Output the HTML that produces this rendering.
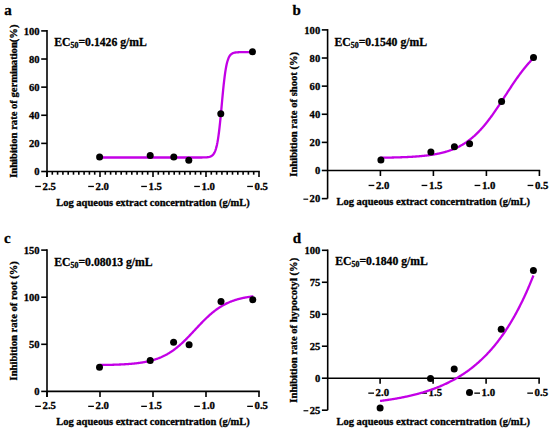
<!DOCTYPE html>
<html><head><meta charset="utf-8"><style>
html,body{margin:0;padding:0;background:#fff;width:550px;height:433px;overflow:hidden}
svg{display:block}
text{font-family:"Liberation Serif", serif;font-weight:bold;fill:#000;stroke:#000;stroke-width:0.3px}
.t{font-size:10.6px}
.xt{font-size:10.8px}
.L{font-size:15px}
.e{font-size:11.7px}
.s{font-size:7.9px}
.y{font-size:10.6px}
.x{font-size:10.5px}
line{stroke:#000;stroke-width:1.6}
rect,circle{fill:#000}
</style></head><body>
<svg width="550" height="433" viewBox="0 0 550 433">
<line x1="47" y1="30.10" x2="47" y2="177.00" />
<line x1="41.20" y1="171.50" x2="47" y2="171.50" />
<text class="t" x="39.60" y="175.30" text-anchor="end">0</text>
<line x1="41.20" y1="143.38" x2="47" y2="143.38" />
<text class="t" x="39.60" y="147.18" text-anchor="end">20</text>
<line x1="41.20" y1="115.26" x2="47" y2="115.26" />
<text class="t" x="39.60" y="119.06" text-anchor="end">40</text>
<line x1="41.20" y1="87.14" x2="47" y2="87.14" />
<text class="t" x="39.60" y="90.94" text-anchor="end">60</text>
<line x1="41.20" y1="59.02" x2="47" y2="59.02" />
<text class="t" x="39.60" y="62.82" text-anchor="end">80</text>
<line x1="41.20" y1="30.90" x2="47" y2="30.90" />
<text class="t" x="39.60" y="34.70" text-anchor="end">100</text>
<line x1="47" y1="171.50" x2="259.80" y2="171.50" />
<line x1="47.00" y1="171.50" x2="47.00" y2="177.00" />
<text class="xt" x="42.50" y="189.50">2.5</text>
<rect x="35.20" y="185.80" width="5.7" height="1.3" />
<line x1="100.00" y1="171.50" x2="100.00" y2="177.00" />
<text class="xt" x="95.50" y="189.50">2.0</text>
<rect x="88.20" y="185.80" width="5.7" height="1.3" />
<line x1="153.00" y1="171.50" x2="153.00" y2="177.00" />
<text class="xt" x="148.50" y="189.50">1.5</text>
<rect x="141.20" y="185.80" width="5.7" height="1.3" />
<line x1="206.00" y1="171.50" x2="206.00" y2="177.00" />
<text class="xt" x="201.50" y="189.50">1.0</text>
<rect x="194.20" y="185.80" width="5.7" height="1.3" />
<line x1="259.00" y1="171.50" x2="259.00" y2="177.00" />
<text class="xt" x="254.50" y="189.50">0.5</text>
<rect x="247.20" y="185.80" width="5.7" height="1.3" />
<line x1="52.30" y1="171.50" x2="52.30" y2="174.70" />
<line x1="57.60" y1="171.50" x2="57.60" y2="174.70" />
<line x1="62.90" y1="171.50" x2="62.90" y2="174.70" />
<line x1="68.20" y1="171.50" x2="68.20" y2="174.70" />
<line x1="73.50" y1="171.50" x2="73.50" y2="174.70" />
<line x1="78.80" y1="171.50" x2="78.80" y2="174.70" />
<line x1="84.10" y1="171.50" x2="84.10" y2="174.70" />
<line x1="89.40" y1="171.50" x2="89.40" y2="174.70" />
<line x1="94.70" y1="171.50" x2="94.70" y2="174.70" />
<line x1="105.30" y1="171.50" x2="105.30" y2="174.70" />
<line x1="110.60" y1="171.50" x2="110.60" y2="174.70" />
<line x1="115.90" y1="171.50" x2="115.90" y2="174.70" />
<line x1="121.20" y1="171.50" x2="121.20" y2="174.70" />
<line x1="126.50" y1="171.50" x2="126.50" y2="174.70" />
<line x1="131.80" y1="171.50" x2="131.80" y2="174.70" />
<line x1="137.10" y1="171.50" x2="137.10" y2="174.70" />
<line x1="142.40" y1="171.50" x2="142.40" y2="174.70" />
<line x1="147.70" y1="171.50" x2="147.70" y2="174.70" />
<line x1="158.30" y1="171.50" x2="158.30" y2="174.70" />
<line x1="163.60" y1="171.50" x2="163.60" y2="174.70" />
<line x1="168.90" y1="171.50" x2="168.90" y2="174.70" />
<line x1="174.20" y1="171.50" x2="174.20" y2="174.70" />
<line x1="179.50" y1="171.50" x2="179.50" y2="174.70" />
<line x1="184.80" y1="171.50" x2="184.80" y2="174.70" />
<line x1="190.10" y1="171.50" x2="190.10" y2="174.70" />
<line x1="195.40" y1="171.50" x2="195.40" y2="174.70" />
<line x1="200.70" y1="171.50" x2="200.70" y2="174.70" />
<line x1="211.30" y1="171.50" x2="211.30" y2="174.70" />
<line x1="216.60" y1="171.50" x2="216.60" y2="174.70" />
<line x1="221.90" y1="171.50" x2="221.90" y2="174.70" />
<line x1="227.20" y1="171.50" x2="227.20" y2="174.70" />
<line x1="232.50" y1="171.50" x2="232.50" y2="174.70" />
<line x1="237.80" y1="171.50" x2="237.80" y2="174.70" />
<line x1="243.10" y1="171.50" x2="243.10" y2="174.70" />
<line x1="248.40" y1="171.50" x2="248.40" y2="174.70" />
<line x1="253.70" y1="171.50" x2="253.70" y2="174.70" />
<path d="M100.00,157.51 L100.51,157.51 L101.03,157.51 L101.54,157.51 L102.05,157.51 L102.57,157.51 L103.08,157.51 L103.59,157.51 L104.10,157.51 L104.62,157.51 L105.13,157.51 L105.64,157.51 L106.16,157.51 L106.67,157.51 L107.18,157.51 L107.70,157.51 L108.21,157.51 L108.72,157.51 L109.23,157.51 L109.75,157.51 L110.26,157.51 L110.77,157.51 L111.29,157.51 L111.80,157.51 L112.31,157.51 L112.83,157.51 L113.34,157.51 L113.85,157.51 L114.37,157.51 L114.88,157.51 L115.39,157.51 L115.90,157.51 L116.42,157.51 L116.93,157.51 L117.44,157.51 L117.96,157.51 L118.47,157.51 L118.98,157.51 L119.50,157.51 L120.01,157.51 L120.52,157.51 L121.03,157.51 L121.55,157.51 L122.06,157.51 L122.57,157.51 L123.09,157.51 L123.60,157.51 L124.11,157.51 L124.63,157.51 L125.14,157.51 L125.65,157.51 L126.17,157.51 L126.68,157.51 L127.19,157.51 L127.70,157.51 L128.22,157.51 L128.73,157.51 L129.24,157.51 L129.76,157.51 L130.27,157.51 L130.78,157.51 L131.30,157.51 L131.81,157.51 L132.32,157.51 L132.83,157.51 L133.35,157.51 L133.86,157.51 L134.37,157.51 L134.89,157.51 L135.40,157.51 L135.91,157.51 L136.43,157.51 L136.94,157.51 L137.45,157.51 L137.96,157.51 L138.48,157.51 L138.99,157.51 L139.50,157.51 L140.02,157.51 L140.53,157.51 L141.04,157.51 L141.56,157.51 L142.07,157.51 L142.58,157.51 L143.10,157.51 L143.61,157.51 L144.12,157.51 L144.63,157.51 L145.15,157.51 L145.66,157.51 L146.17,157.51 L146.69,157.51 L147.20,157.51 L147.71,157.51 L148.23,157.51 L148.74,157.51 L149.25,157.51 L149.76,157.51 L150.28,157.51 L150.79,157.51 L151.30,157.51 L151.82,157.51 L152.33,157.51 L152.84,157.51 L153.36,157.51 L153.87,157.51 L154.38,157.51 L154.90,157.51 L155.41,157.51 L155.92,157.51 L156.43,157.51 L156.95,157.51 L157.46,157.51 L157.97,157.51 L158.49,157.51 L159.00,157.51 L159.51,157.51 L160.03,157.51 L160.54,157.51 L161.05,157.51 L161.56,157.51 L162.08,157.51 L162.59,157.51 L163.10,157.51 L163.62,157.51 L164.13,157.51 L164.64,157.51 L165.16,157.51 L165.67,157.51 L166.18,157.51 L166.70,157.51 L167.21,157.51 L167.72,157.51 L168.23,157.51 L168.75,157.51 L169.26,157.51 L169.77,157.51 L170.29,157.51 L170.80,157.51 L171.31,157.51 L171.83,157.51 L172.34,157.51 L172.85,157.51 L173.36,157.51 L173.88,157.51 L174.39,157.51 L174.90,157.51 L175.42,157.51 L175.93,157.51 L176.44,157.51 L176.96,157.51 L177.47,157.51 L177.98,157.51 L178.50,157.51 L179.01,157.51 L179.52,157.51 L180.03,157.51 L180.55,157.51 L181.06,157.51 L181.57,157.51 L182.09,157.51 L182.60,157.51 L183.11,157.51 L183.63,157.51 L184.14,157.51 L184.65,157.51 L185.16,157.51 L185.68,157.51 L186.19,157.51 L186.70,157.51 L187.22,157.51 L187.73,157.51 L188.24,157.51 L188.76,157.51 L189.27,157.51 L189.78,157.51 L190.29,157.51 L190.81,157.51 L191.32,157.51 L191.83,157.51 L192.35,157.51 L192.86,157.51 L193.37,157.51 L193.89,157.51 L194.40,157.51 L194.91,157.51 L195.43,157.51 L195.94,157.51 L196.45,157.51 L196.96,157.51 L197.48,157.51 L197.99,157.50 L198.50,157.50 L199.02,157.50 L199.53,157.50 L200.04,157.50 L200.56,157.49 L201.07,157.49 L201.58,157.49 L202.09,157.48 L202.61,157.47 L203.12,157.46 L203.63,157.45 L204.15,157.44 L204.66,157.42 L205.17,157.40 L205.69,157.37 L206.20,157.34 L206.71,157.30 L207.23,157.25 L207.74,157.19 L208.25,157.12 L208.76,157.03 L209.28,156.91 L209.79,156.77 L210.30,156.60 L210.82,156.39 L211.33,156.12 L211.84,155.80 L212.36,155.40 L212.87,154.92 L213.38,154.32 L213.89,153.59 L214.41,152.71 L214.92,151.63 L215.43,150.34 L215.95,148.78 L216.46,146.92 L216.97,144.72 L217.49,142.13 L218.00,139.12 L218.51,135.67 L219.03,131.77 L219.54,127.41 L220.05,122.64 L220.56,117.52 L221.08,112.13 L221.59,106.58 L222.10,100.99 L222.62,95.48 L223.13,90.18 L223.64,85.18 L224.16,80.56 L224.67,76.37 L225.18,72.63 L225.69,69.35 L226.21,66.50 L226.72,64.06 L227.23,61.99 L227.75,60.25 L228.26,58.80 L228.77,57.59 L229.29,56.59 L229.80,55.76 L230.31,55.09 L230.83,54.53 L231.34,54.08 L231.85,53.71 L232.36,53.41 L232.88,53.17 L233.39,52.97 L233.90,52.81 L234.42,52.68 L234.93,52.58 L235.44,52.49 L235.96,52.42 L236.47,52.37 L236.98,52.32 L237.49,52.29 L238.01,52.26 L238.52,52.23 L239.03,52.21 L239.55,52.20 L240.06,52.18 L240.57,52.17 L241.09,52.17 L241.60,52.16 L242.11,52.15 L242.62,52.15 L243.14,52.15 L243.65,52.14 L244.16,52.14 L244.68,52.14 L245.19,52.14 L245.70,52.14 L246.22,52.13 L246.73,52.13 L247.24,52.13 L247.76,52.13 L248.27,52.13 L248.78,52.13 L249.29,52.13 L249.81,52.13 L250.32,52.13 L250.83,52.13 L251.35,52.13 L251.86,52.13 L252.37,52.13 L252.89,52.13 L253.40,52.13" fill="none" stroke="#C300E6" stroke-width="2.3" />
<circle cx="99.60" cy="157.00" r="3.5" />
<circle cx="150.20" cy="155.40" r="3.5" />
<circle cx="173.80" cy="157.00" r="3.5" />
<circle cx="188.80" cy="160.20" r="3.5" />
<circle cx="220.80" cy="113.80" r="3.5" />
<circle cx="252.50" cy="51.70" r="3.5" />
<text class="L" x="4.2" y="15.3">a</text>
<text class="e" x="54.3" y="46.4">EC<tspan class="s" dy="2">50</tspan><tspan dy="-2">=</tspan>0.1426 g/mL</text>
<text class="y" transform="translate(17,101.20) rotate(-90)" text-anchor="middle">Inhibition rate of germination(%)</text>
<text class="x" x="153" y="205.6" text-anchor="middle">Log aqueous extract concerntration (g/mL)</text>
<line x1="327.6" y1="29.10" x2="327.6" y2="198.62" />
<line x1="321.80" y1="198.62" x2="327.6" y2="198.62" />
<text class="t" x="320.20" y="202.42" text-anchor="end">20</text>
<rect x="303.40" y="198.62" width="4.8" height="1.15" />
<line x1="321.80" y1="170.50" x2="327.6" y2="170.50" />
<text class="t" x="320.20" y="174.30" text-anchor="end">0</text>
<line x1="321.80" y1="142.38" x2="327.6" y2="142.38" />
<text class="t" x="320.20" y="146.18" text-anchor="end">20</text>
<line x1="321.80" y1="114.26" x2="327.6" y2="114.26" />
<text class="t" x="320.20" y="118.06" text-anchor="end">40</text>
<line x1="321.80" y1="86.14" x2="327.6" y2="86.14" />
<text class="t" x="320.20" y="89.94" text-anchor="end">60</text>
<line x1="321.80" y1="58.02" x2="327.6" y2="58.02" />
<text class="t" x="320.20" y="61.82" text-anchor="end">80</text>
<line x1="321.80" y1="29.90" x2="327.6" y2="29.90" />
<text class="t" x="320.20" y="33.70" text-anchor="end">100</text>
<line x1="327.6" y1="170.50" x2="540.20" y2="170.50" />
<line x1="380.40" y1="170.50" x2="380.40" y2="176.00" />
<text class="xt" x="375.90" y="188.50">2.0</text>
<rect x="368.60" y="184.80" width="5.7" height="1.3" />
<line x1="433.40" y1="170.50" x2="433.40" y2="176.00" />
<text class="xt" x="428.90" y="188.50">1.5</text>
<rect x="421.60" y="184.80" width="5.7" height="1.3" />
<line x1="486.40" y1="170.50" x2="486.40" y2="176.00" />
<text class="xt" x="481.90" y="188.50">1.0</text>
<rect x="474.60" y="184.80" width="5.7" height="1.3" />
<line x1="539.40" y1="170.50" x2="539.40" y2="176.00" />
<text class="xt" x="534.90" y="188.50">0.5</text>
<rect x="527.60" y="184.80" width="5.7" height="1.3" />
<path d="M380.30,157.72 L380.81,157.71 L381.33,157.70 L381.84,157.70 L382.35,157.69 L382.87,157.68 L383.38,157.68 L383.89,157.67 L384.40,157.66 L384.92,157.65 L385.43,157.64 L385.94,157.64 L386.46,157.63 L386.97,157.62 L387.48,157.61 L388.00,157.60 L388.51,157.59 L389.02,157.58 L389.53,157.57 L390.05,157.56 L390.56,157.55 L391.07,157.54 L391.59,157.53 L392.10,157.52 L392.61,157.51 L393.13,157.49 L393.64,157.48 L394.15,157.47 L394.67,157.46 L395.18,157.44 L395.69,157.43 L396.20,157.42 L396.72,157.40 L397.23,157.39 L397.74,157.37 L398.26,157.36 L398.77,157.34 L399.28,157.32 L399.80,157.31 L400.31,157.29 L400.82,157.27 L401.33,157.26 L401.85,157.24 L402.36,157.22 L402.87,157.20 L403.39,157.18 L403.90,157.16 L404.41,157.14 L404.93,157.12 L405.44,157.10 L405.95,157.07 L406.47,157.05 L406.98,157.03 L407.49,157.00 L408.00,156.98 L408.52,156.95 L409.03,156.93 L409.54,156.90 L410.06,156.87 L410.57,156.84 L411.08,156.82 L411.60,156.79 L412.11,156.76 L412.62,156.73 L413.13,156.69 L413.65,156.66 L414.16,156.63 L414.67,156.59 L415.19,156.56 L415.70,156.52 L416.21,156.49 L416.73,156.45 L417.24,156.41 L417.75,156.37 L418.26,156.33 L418.78,156.29 L419.29,156.24 L419.80,156.20 L420.32,156.15 L420.83,156.11 L421.34,156.06 L421.86,156.01 L422.37,155.96 L422.88,155.91 L423.40,155.86 L423.91,155.81 L424.42,155.75 L424.93,155.70 L425.45,155.64 L425.96,155.58 L426.47,155.52 L426.99,155.46 L427.50,155.39 L428.01,155.33 L428.53,155.26 L429.04,155.19 L429.55,155.12 L430.06,155.05 L430.58,154.98 L431.09,154.90 L431.60,154.83 L432.12,154.75 L432.63,154.67 L433.14,154.58 L433.66,154.50 L434.17,154.41 L434.68,154.32 L435.20,154.23 L435.71,154.14 L436.22,154.04 L436.73,153.95 L437.25,153.85 L437.76,153.74 L438.27,153.64 L438.79,153.53 L439.30,153.42 L439.81,153.31 L440.33,153.19 L440.84,153.07 L441.35,152.95 L441.86,152.83 L442.38,152.70 L442.89,152.57 L443.40,152.44 L443.92,152.30 L444.43,152.16 L444.94,152.02 L445.46,151.87 L445.97,151.72 L446.48,151.57 L447.00,151.42 L447.51,151.26 L448.02,151.09 L448.53,150.93 L449.05,150.75 L449.56,150.58 L450.07,150.40 L450.59,150.22 L451.10,150.03 L451.61,149.84 L452.13,149.64 L452.64,149.44 L453.15,149.24 L453.66,149.03 L454.18,148.82 L454.69,148.60 L455.20,148.38 L455.72,148.15 L456.23,147.92 L456.74,147.68 L457.26,147.44 L457.77,147.19 L458.28,146.93 L458.80,146.68 L459.31,146.41 L459.82,146.14 L460.33,145.87 L460.85,145.59 L461.36,145.30 L461.87,145.01 L462.39,144.71 L462.90,144.40 L463.41,144.09 L463.93,143.78 L464.44,143.45 L464.95,143.12 L465.46,142.79 L465.98,142.44 L466.49,142.10 L467.00,141.74 L467.52,141.38 L468.03,141.01 L468.54,140.63 L469.06,140.25 L469.57,139.86 L470.08,139.46 L470.59,139.06 L471.11,138.64 L471.62,138.23 L472.13,137.80 L472.65,137.36 L473.16,136.92 L473.67,136.47 L474.19,136.02 L474.70,135.55 L475.21,135.08 L475.73,134.60 L476.24,134.12 L476.75,133.62 L477.26,133.12 L477.78,132.61 L478.29,132.09 L478.80,131.57 L479.32,131.03 L479.83,130.49 L480.34,129.94 L480.86,129.39 L481.37,128.82 L481.88,128.25 L482.39,127.67 L482.91,127.09 L483.42,126.49 L483.93,125.89 L484.45,125.28 L484.96,124.66 L485.47,124.04 L485.99,123.41 L486.50,122.77 L487.01,122.12 L487.53,121.47 L488.04,120.81 L488.55,120.14 L489.06,119.47 L489.58,118.79 L490.09,118.10 L490.60,117.41 L491.12,116.71 L491.63,116.01 L492.14,115.30 L492.66,114.58 L493.17,113.86 L493.68,113.13 L494.19,112.40 L494.71,111.66 L495.22,110.92 L495.73,110.17 L496.25,109.42 L496.76,108.66 L497.27,107.90 L497.79,107.14 L498.30,106.37 L498.81,105.60 L499.33,104.83 L499.84,104.05 L500.35,103.28 L500.86,102.49 L501.38,101.71 L501.89,100.93 L502.40,100.14 L502.92,99.35 L503.43,98.56 L503.94,97.77 L504.46,96.98 L504.97,96.19 L505.48,95.40 L505.99,94.60 L506.51,93.81 L507.02,93.02 L507.53,92.23 L508.05,91.44 L508.56,90.66 L509.07,89.87 L509.59,89.09 L510.10,88.31 L510.61,87.53 L511.13,86.75 L511.64,85.98 L512.15,85.21 L512.66,84.44 L513.18,83.67 L513.69,82.91 L514.20,82.16 L514.72,81.41 L515.23,80.66 L515.74,79.92 L516.26,79.18 L516.77,78.45 L517.28,77.72 L517.79,76.99 L518.31,76.28 L518.82,75.57 L519.33,74.86 L519.85,74.16 L520.36,73.47 L520.87,72.78 L521.39,72.10 L521.90,71.43 L522.41,70.76 L522.92,70.10 L523.44,69.44 L523.95,68.80 L524.46,68.16 L524.98,67.52 L525.49,66.90 L526.00,66.28 L526.52,65.67 L527.03,65.07 L527.54,64.47 L528.06,63.88 L528.57,63.30 L529.08,62.73 L529.59,62.17 L530.11,61.61 L530.62,61.06 L531.13,60.52 L531.65,59.98 L532.16,59.46 L532.67,58.94 L533.19,58.43 L533.70,57.92" fill="none" stroke="#C300E6" stroke-width="2.3" />
<circle cx="380.90" cy="160.00" r="3.5" />
<circle cx="430.90" cy="152.00" r="3.5" />
<circle cx="454.40" cy="146.70" r="3.5" />
<circle cx="469.60" cy="143.70" r="3.5" />
<circle cx="501.60" cy="101.40" r="3.5" />
<circle cx="533.50" cy="57.50" r="3.5" />
<text class="L" x="292.5" y="15.3">b</text>
<text class="e" x="334.5" y="46.4">EC<tspan class="s" dy="2">50</tspan><tspan dy="-2">=</tspan>0.1540 g/mL</text>
<text class="y" transform="translate(297,114.26) rotate(-90)" text-anchor="middle">Inhibition rate of shoot (%)</text>
<text class="x" x="433.3" y="205" text-anchor="middle">Log aqueous extract concerntration (g/mL)</text>
<line x1="47" y1="249.30" x2="47" y2="396.90" />
<line x1="41.20" y1="391.40" x2="47" y2="391.40" />
<text class="t" x="39.60" y="395.20" text-anchor="end">0</text>
<line x1="41.20" y1="344.30" x2="47" y2="344.30" />
<text class="t" x="39.60" y="348.10" text-anchor="end">50</text>
<line x1="41.20" y1="297.20" x2="47" y2="297.20" />
<text class="t" x="39.60" y="301.00" text-anchor="end">100</text>
<line x1="41.20" y1="250.10" x2="47" y2="250.10" />
<text class="t" x="39.60" y="253.90" text-anchor="end">150</text>
<line x1="47" y1="391.40" x2="259.80" y2="391.40" />
<line x1="47.00" y1="391.40" x2="47.00" y2="396.90" />
<text class="xt" x="42.50" y="409.40">2.5</text>
<rect x="35.20" y="405.70" width="5.7" height="1.3" />
<line x1="100.00" y1="391.40" x2="100.00" y2="396.90" />
<text class="xt" x="95.50" y="409.40">2.0</text>
<rect x="88.20" y="405.70" width="5.7" height="1.3" />
<line x1="153.00" y1="391.40" x2="153.00" y2="396.90" />
<text class="xt" x="148.50" y="409.40">1.5</text>
<rect x="141.20" y="405.70" width="5.7" height="1.3" />
<line x1="206.00" y1="391.40" x2="206.00" y2="396.90" />
<text class="xt" x="201.50" y="409.40">1.0</text>
<rect x="194.20" y="405.70" width="5.7" height="1.3" />
<line x1="259.00" y1="391.40" x2="259.00" y2="396.90" />
<text class="xt" x="254.50" y="409.40">0.5</text>
<rect x="247.20" y="405.70" width="5.7" height="1.3" />
<path d="M100.00,365.02 L100.51,365.02 L101.03,365.01 L101.54,365.00 L102.05,364.99 L102.57,364.99 L103.08,364.98 L103.59,364.97 L104.10,364.96 L104.62,364.95 L105.13,364.94 L105.64,364.93 L106.16,364.92 L106.67,364.91 L107.18,364.90 L107.70,364.89 L108.21,364.88 L108.72,364.87 L109.23,364.86 L109.75,364.84 L110.26,364.83 L110.77,364.82 L111.29,364.80 L111.80,364.79 L112.31,364.78 L112.83,364.76 L113.34,364.75 L113.85,364.73 L114.37,364.71 L114.88,364.70 L115.39,364.68 L115.90,364.66 L116.42,364.65 L116.93,364.63 L117.44,364.61 L117.96,364.59 L118.47,364.57 L118.98,364.55 L119.50,364.52 L120.01,364.50 L120.52,364.48 L121.03,364.45 L121.55,364.43 L122.06,364.40 L122.57,364.38 L123.09,364.35 L123.60,364.32 L124.11,364.29 L124.63,364.26 L125.14,364.23 L125.65,364.20 L126.17,364.17 L126.68,364.14 L127.19,364.10 L127.70,364.07 L128.22,364.03 L128.73,363.99 L129.24,363.95 L129.76,363.91 L130.27,363.87 L130.78,363.83 L131.30,363.79 L131.81,363.74 L132.32,363.69 L132.83,363.65 L133.35,363.60 L133.86,363.55 L134.37,363.49 L134.89,363.44 L135.40,363.38 L135.91,363.33 L136.43,363.27 L136.94,363.21 L137.45,363.14 L137.96,363.08 L138.48,363.01 L138.99,362.95 L139.50,362.88 L140.02,362.80 L140.53,362.73 L141.04,362.65 L141.56,362.57 L142.07,362.49 L142.58,362.41 L143.10,362.32 L143.61,362.24 L144.12,362.14 L144.63,362.05 L145.15,361.95 L145.66,361.86 L146.17,361.75 L146.69,361.65 L147.20,361.54 L147.71,361.43 L148.23,361.32 L148.74,361.20 L149.25,361.08 L149.76,360.96 L150.28,360.83 L150.79,360.70 L151.30,360.57 L151.82,360.43 L152.33,360.29 L152.84,360.14 L153.36,359.99 L153.87,359.84 L154.38,359.68 L154.90,359.52 L155.41,359.35 L155.92,359.18 L156.43,359.01 L156.95,358.83 L157.46,358.65 L157.97,358.46 L158.49,358.27 L159.00,358.07 L159.51,357.87 L160.03,357.66 L160.54,357.44 L161.05,357.23 L161.56,357.00 L162.08,356.77 L162.59,356.54 L163.10,356.30 L163.62,356.05 L164.13,355.80 L164.64,355.54 L165.16,355.28 L165.67,355.01 L166.18,354.74 L166.70,354.46 L167.21,354.17 L167.72,353.87 L168.23,353.57 L168.75,353.27 L169.26,352.96 L169.77,352.64 L170.29,352.31 L170.80,351.98 L171.31,351.64 L171.83,351.30 L172.34,350.94 L172.85,350.59 L173.36,350.22 L173.88,349.85 L174.39,349.47 L174.90,349.09 L175.42,348.70 L175.93,348.30 L176.44,347.90 L176.96,347.49 L177.47,347.07 L177.98,346.65 L178.50,346.22 L179.01,345.78 L179.52,345.34 L180.03,344.89 L180.55,344.44 L181.06,343.98 L181.57,343.51 L182.09,343.04 L182.60,342.56 L183.11,342.08 L183.63,341.59 L184.14,341.10 L184.65,340.60 L185.16,340.10 L185.68,339.60 L186.19,339.08 L186.70,338.57 L187.22,338.05 L187.73,337.53 L188.24,337.00 L188.76,336.47 L189.27,335.94 L189.78,335.40 L190.29,334.86 L190.81,334.32 L191.32,333.78 L191.83,333.24 L192.35,332.69 L192.86,332.14 L193.37,331.59 L193.89,331.04 L194.40,330.49 L194.91,329.94 L195.43,329.39 L195.94,328.84 L196.45,328.29 L196.96,327.74 L197.48,327.19 L197.99,326.64 L198.50,326.10 L199.02,325.55 L199.53,325.01 L200.04,324.47 L200.56,323.93 L201.07,323.40 L201.58,322.87 L202.09,322.34 L202.61,321.81 L203.12,321.29 L203.63,320.77 L204.15,320.26 L204.66,319.75 L205.17,319.25 L205.69,318.75 L206.20,318.25 L206.71,317.76 L207.23,317.27 L207.74,316.79 L208.25,316.32 L208.76,315.85 L209.28,315.39 L209.79,314.93 L210.30,314.48 L210.82,314.03 L211.33,313.59 L211.84,313.16 L212.36,312.73 L212.87,312.31 L213.38,311.90 L213.89,311.49 L214.41,311.09 L214.92,310.69 L215.43,310.31 L215.95,309.92 L216.46,309.55 L216.97,309.18 L217.49,308.82 L218.00,308.46 L218.51,308.11 L219.03,307.77 L219.54,307.44 L220.05,307.11 L220.56,306.78 L221.08,306.47 L221.59,306.16 L222.10,305.85 L222.62,305.56 L223.13,305.27 L223.64,304.98 L224.16,304.70 L224.67,304.43 L225.18,304.16 L225.69,303.90 L226.21,303.65 L226.72,303.40 L227.23,303.15 L227.75,302.92 L228.26,302.68 L228.77,302.46 L229.29,302.24 L229.80,302.02 L230.31,301.81 L230.83,301.60 L231.34,301.40 L231.85,301.21 L232.36,301.01 L232.88,300.83 L233.39,300.65 L233.90,300.47 L234.42,300.30 L234.93,300.13 L235.44,299.96 L235.96,299.80 L236.47,299.65 L236.98,299.50 L237.49,299.35 L238.01,299.21 L238.52,299.07 L239.03,298.93 L239.55,298.80 L240.06,298.67 L240.57,298.54 L241.09,298.42 L241.60,298.30 L242.11,298.19 L242.62,298.07 L243.14,297.96 L243.65,297.86 L244.16,297.75 L244.68,297.65 L245.19,297.56 L245.70,297.46 L246.22,297.37 L246.73,297.28 L247.24,297.19 L247.76,297.11 L248.27,297.02 L248.78,296.94 L249.29,296.87 L249.81,296.79 L250.32,296.72 L250.83,296.65 L251.35,296.58 L251.86,296.51 L252.37,296.44 L252.89,296.38 L253.40,296.32" fill="none" stroke="#C300E6" stroke-width="2.3" />
<circle cx="99.50" cy="367.30" r="3.5" />
<circle cx="150.20" cy="360.50" r="3.5" />
<circle cx="173.60" cy="342.30" r="3.5" />
<circle cx="189.10" cy="344.80" r="3.5" />
<circle cx="221.00" cy="301.60" r="3.5" />
<circle cx="252.80" cy="299.80" r="3.5" />
<text class="L" x="4" y="243">c</text>
<text class="e" x="54.3" y="265.8">EC<tspan class="s" dy="2">50</tspan><tspan dy="-2">=</tspan>0.08013 g/mL</text>
<text class="y" transform="translate(17,320.75) rotate(-90)" text-anchor="middle">Inhibition rate of root (%)</text>
<text class="x" x="153" y="425.3" text-anchor="middle">Log aqueous extract concerntration (g/mL)</text>
<line x1="327.7" y1="249.50" x2="327.7" y2="410.18" />
<line x1="321.90" y1="410.18" x2="327.7" y2="410.18" />
<text class="t" x="320.30" y="413.98" text-anchor="end">25</text>
<rect x="303.50" y="410.18" width="4.8" height="1.15" />
<line x1="321.90" y1="378.20" x2="327.7" y2="378.20" />
<text class="t" x="320.30" y="382.00" text-anchor="end">0</text>
<line x1="321.90" y1="346.22" x2="327.7" y2="346.22" />
<text class="t" x="320.30" y="350.02" text-anchor="end">25</text>
<line x1="321.90" y1="314.25" x2="327.7" y2="314.25" />
<text class="t" x="320.30" y="318.05" text-anchor="end">50</text>
<line x1="321.90" y1="282.27" x2="327.7" y2="282.27" />
<text class="t" x="320.30" y="286.07" text-anchor="end">75</text>
<line x1="321.90" y1="250.30" x2="327.7" y2="250.30" />
<text class="t" x="320.30" y="254.10" text-anchor="end">100</text>
<line x1="327.7" y1="378.20" x2="539.90" y2="378.20" />
<line x1="380.10" y1="378.20" x2="380.10" y2="383.70" />
<text class="xt" x="375.60" y="396.20">2.0</text>
<rect x="368.30" y="392.50" width="5.7" height="1.3" />
<line x1="433.10" y1="378.20" x2="433.10" y2="383.70" />
<text class="xt" x="428.60" y="396.20">1.5</text>
<rect x="421.30" y="392.50" width="5.7" height="1.3" />
<line x1="486.10" y1="378.20" x2="486.10" y2="383.70" />
<text class="xt" x="481.60" y="396.20">1.0</text>
<rect x="474.30" y="392.50" width="5.7" height="1.3" />
<line x1="539.10" y1="378.20" x2="539.10" y2="383.70" />
<text class="xt" x="534.60" y="396.20">0.5</text>
<rect x="527.30" y="392.50" width="5.7" height="1.3" />
<path d="M380.00,400.97 L380.51,400.91 L381.03,400.84 L381.54,400.77 L382.05,400.70 L382.57,400.64 L383.08,400.57 L383.59,400.50 L384.10,400.43 L384.62,400.36 L385.13,400.29 L385.64,400.21 L386.16,400.14 L386.67,400.07 L387.18,399.99 L387.70,399.92 L388.21,399.84 L388.72,399.76 L389.23,399.68 L389.75,399.61 L390.26,399.53 L390.77,399.45 L391.29,399.37 L391.80,399.28 L392.31,399.20 L392.83,399.12 L393.34,399.03 L393.85,398.95 L394.37,398.86 L394.88,398.77 L395.39,398.69 L395.90,398.60 L396.42,398.51 L396.93,398.42 L397.44,398.33 L397.96,398.23 L398.47,398.14 L398.98,398.05 L399.50,397.95 L400.01,397.85 L400.52,397.76 L401.03,397.66 L401.55,397.56 L402.06,397.46 L402.57,397.36 L403.09,397.25 L403.60,397.15 L404.11,397.05 L404.63,396.94 L405.14,396.83 L405.65,396.73 L406.17,396.62 L406.68,396.51 L407.19,396.40 L407.70,396.28 L408.22,396.17 L408.73,396.06 L409.24,395.94 L409.76,395.82 L410.27,395.70 L410.78,395.59 L411.30,395.47 L411.81,395.34 L412.32,395.22 L412.83,395.10 L413.35,394.97 L413.86,394.84 L414.37,394.72 L414.89,394.59 L415.40,394.46 L415.91,394.32 L416.43,394.19 L416.94,394.05 L417.45,393.92 L417.96,393.78 L418.48,393.64 L418.99,393.50 L419.50,393.36 L420.02,393.22 L420.53,393.07 L421.04,392.93 L421.56,392.78 L422.07,392.63 L422.58,392.48 L423.10,392.33 L423.61,392.17 L424.12,392.02 L424.63,391.86 L425.15,391.70 L425.66,391.54 L426.17,391.38 L426.69,391.22 L427.20,391.05 L427.71,390.88 L428.23,390.71 L428.74,390.54 L429.25,390.37 L429.76,390.20 L430.28,390.02 L430.79,389.85 L431.30,389.67 L431.82,389.49 L432.33,389.30 L432.84,389.12 L433.36,388.93 L433.87,388.74 L434.38,388.55 L434.90,388.36 L435.41,388.17 L435.92,387.97 L436.43,387.77 L436.95,387.57 L437.46,387.37 L437.97,387.16 L438.49,386.96 L439.00,386.75 L439.51,386.54 L440.03,386.33 L440.54,386.11 L441.05,385.89 L441.56,385.67 L442.08,385.45 L442.59,385.23 L443.10,385.00 L443.62,384.77 L444.13,384.54 L444.64,384.31 L445.16,384.07 L445.67,383.84 L446.18,383.60 L446.70,383.35 L447.21,383.11 L447.72,382.86 L448.23,382.61 L448.75,382.36 L449.26,382.10 L449.77,381.84 L450.29,381.58 L450.80,381.32 L451.31,381.05 L451.83,380.79 L452.34,380.51 L452.85,380.24 L453.36,379.96 L453.88,379.68 L454.39,379.40 L454.90,379.12 L455.42,378.83 L455.93,378.54 L456.44,378.24 L456.96,377.94 L457.47,377.64 L457.98,377.34 L458.50,377.04 L459.01,376.73 L459.52,376.41 L460.03,376.10 L460.55,375.78 L461.06,375.46 L461.57,375.13 L462.09,374.80 L462.60,374.47 L463.11,374.13 L463.63,373.80 L464.14,373.45 L464.65,373.11 L465.16,372.76 L465.68,372.41 L466.19,372.05 L466.70,371.69 L467.22,371.33 L467.73,370.96 L468.24,370.59 L468.76,370.21 L469.27,369.84 L469.78,369.45 L470.29,369.07 L470.81,368.68 L471.32,368.28 L471.83,367.88 L472.35,367.48 L472.86,367.08 L473.37,366.67 L473.89,366.25 L474.40,365.83 L474.91,365.41 L475.43,364.98 L475.94,364.55 L476.45,364.12 L476.96,363.68 L477.48,363.23 L477.99,362.78 L478.50,362.33 L479.02,361.87 L479.53,361.41 L480.04,360.94 L480.56,360.47 L481.07,359.99 L481.58,359.51 L482.09,359.03 L482.61,358.53 L483.12,358.04 L483.63,357.54 L484.15,357.03 L484.66,356.52 L485.17,356.00 L485.69,355.48 L486.20,354.96 L486.71,354.42 L487.23,353.89 L487.74,353.34 L488.25,352.79 L488.76,352.24 L489.28,351.68 L489.79,351.12 L490.30,350.55 L490.82,349.97 L491.33,349.39 L491.84,348.80 L492.36,348.21 L492.87,347.61 L493.38,347.00 L493.89,346.39 L494.41,345.77 L494.92,345.15 L495.43,344.52 L495.95,343.88 L496.46,343.24 L496.97,342.59 L497.49,341.93 L498.00,341.27 L498.51,340.60 L499.03,339.92 L499.54,339.24 L500.05,338.55 L500.56,337.85 L501.08,337.15 L501.59,336.44 L502.10,335.72 L502.62,335.00 L503.13,334.27 L503.64,333.53 L504.16,332.78 L504.67,332.03 L505.18,331.27 L505.69,330.50 L506.21,329.72 L506.72,328.94 L507.23,328.15 L507.75,327.35 L508.26,326.54 L508.77,325.73 L509.29,324.90 L509.80,324.07 L510.31,323.23 L510.83,322.38 L511.34,321.52 L511.85,320.66 L512.36,319.79 L512.88,318.90 L513.39,318.01 L513.90,317.11 L514.42,316.20 L514.93,315.29 L515.44,314.36 L515.96,313.42 L516.47,312.48 L516.98,311.52 L517.49,310.56 L518.01,309.59 L518.52,308.60 L519.03,307.61 L519.55,306.61 L520.06,305.60 L520.57,304.58 L521.09,303.54 L521.60,302.50 L522.11,301.45 L522.62,300.39 L523.14,299.31 L523.65,298.23 L524.16,297.14 L524.68,296.03 L525.19,294.91 L525.70,293.79 L526.22,292.65 L526.73,291.50 L527.24,290.34 L527.76,289.17 L528.27,287.99 L528.78,286.79 L529.29,285.59 L529.81,284.37 L530.32,283.14 L530.83,281.90 L531.35,280.65 L531.86,279.38 L532.37,278.10 L532.89,276.81 L533.40,275.51" fill="none" stroke="#C300E6" stroke-width="2.3" />
<circle cx="380.10" cy="408.00" r="3.5" />
<circle cx="430.50" cy="378.40" r="3.5" />
<circle cx="454.20" cy="369.10" r="3.5" />
<circle cx="469.50" cy="392.50" r="3.5" />
<circle cx="501.20" cy="329.30" r="3.5" />
<circle cx="533.40" cy="270.40" r="3.5" />
<text class="L" x="292.8" y="243">d</text>
<text class="e" x="335.3" y="265">EC<tspan class="s" dy="2">50</tspan><tspan dy="-2">=</tspan>0.1840 g/mL</text>
<text class="y" transform="translate(297,330.24) rotate(-90)" text-anchor="middle">Inhibition rate of hypocotyl (%)</text>
<text class="x" x="433.3" y="424.7" text-anchor="middle">Log aqueous extract concerntration (g/mL)</text>
</svg>
</body></html>
